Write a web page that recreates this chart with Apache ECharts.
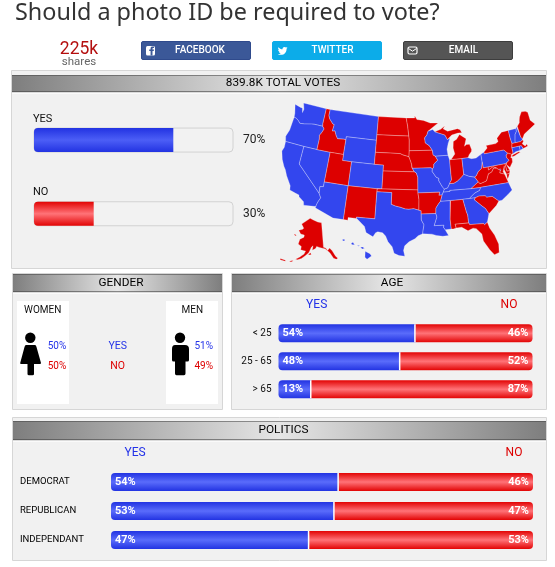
<!DOCTYPE html>
<html>
<head>
<meta charset="utf-8">
<title>Should a photo ID be required to vote?</title>
<script src="https://cdn.jsdelivr.net/npm/echarts@6/dist/echarts.min.js"></script>
<style>
html,body{margin:0;padding:0;background:#fff}
#main{width:555px;height:567px}
</style>
</head>
<body>
<div id="main"></div>
<script>
// Poll results
const questionTitle = 'Should a photo ID be required to vote?';
const shareCount = '225k';
const totalVotes = '839.8K TOTAL VOTES';
const overallChoices = ['YES', 'NO'];
const overallValues = [70, 30];
const genderGroups = ['WOMEN', 'MEN'];
const genderYes = [50, 51];
const genderNo = [50, 49];
const ageGroups = ['< 25', '25 - 65', '> 65'];
const ageYes = [54, 48, 13];
const ageNo = [46, 52, 87];
const politicsGroups = ['DEMOCRAT', 'REPUBLICAN', 'INDEPENDANT'];
const politicsYes = [54, 53, 47];
const politicsNo = [46, 47, 53];

// Which way each state leans
const yesStates = ['WA','OR','CA','NV','AZ','MT','WY','CO','TX','LA','MS','MO','IL','WI','KY','TN','OH','PA','GA','NC','VT','NH','CT','RI','HI','DC'];
const noStates = ['ID','UT','NM','ND','SD','NE','KS','OK','AR','MN','IA','IN','MI','WV','VA','MD','DE','SC','AL','FL','NY','NJ','MA','ME','AK'];

// Simplified state outlines, "lon,lat" vertices per ring
const stateOutlines = {
  WA:['-124.7,48.4 -123.2,48.15 -122.75,48.15 -122.4,47.4 -122.3,48.0 -122.8,49 -117.03,49 -117.04,46.42 -116.92,45.99 -118.98,46 -119.6,45.92 -121.2,45.65 -122.3,45.55 -122.8,45.9 -123.4,46.2 -124,46.27 -124.1,46.9'],
  OR:['-124,46.27 -123.4,46.2 -122.8,45.9 -122.3,45.55 -121.2,45.65 -119.6,45.92 -118.98,46 -116.92,45.99 -116.47,45.6 -116.85,44.9 -117.2,44.4 -117.03,43.8 -117.03,42 -120,42 -124.21,42 -124.55,42.84 -124.1,44'],
  CA:['-124.21,42 -120,42 -120,39 -114.63,35 -114.14,34.3 -114.5,33.6 -114.72,33 -114.72,32.72 -117.12,32.53 -117.3,33.1 -118.4,33.75 -118.5,34.03 -119.2,34.15 -120.5,34.45 -120.65,35.15 -121.9,36.6 -122.5,37.5 -123,38 -123.75,39 -124.35,40.3 -124.1,41'],
  NV:['-120,42 -117.03,42 -114.04,42 -114.04,37 -114.04,36.2 -114.74,36.1 -114.63,35 -120,39'],
  ID:['-117.03,49 -116.05,49 -116.05,48 -115.7,47.45 -114.7,46.7 -114.35,46.65 -114.5,45.55 -113.9,45.65 -113.45,44.95 -113,44.45 -111.5,44.55 -111.05,44.48 -111.05,42 -114.04,42 -117.03,42 -117.03,43.8 -117.2,44.4 -116.85,44.9 -116.47,45.6 -116.92,45.99 -117.04,46.42'],
  MT:['-116.05,49 -104.05,49 -104.05,45.94 -104.05,45 -111.05,45 -111.05,44.48 -111.5,44.55 -113,44.45 -113.45,44.95 -113.9,45.65 -114.5,45.55 -114.35,46.65 -114.7,46.7 -115.7,47.45 -116.05,48'],
  WY:['-111.05,45 -104.05,45 -104.05,43 -104.05,41 -109.05,41 -111.05,41 -111.05,42 -111.05,44.48'],
  UT:['-114.04,42 -111.05,42 -111.05,41 -109.05,41 -109.05,37 -114.04,37'],
  CO:['-109.05,41 -104.05,41 -102.05,41 -102.05,40 -102.05,37 -103,37 -109.05,37'],
  AZ:['-114.04,37 -109.05,37 -109.05,31.33 -111.07,31.33 -114.81,32.5 -114.72,32.72 -114.72,33 -114.5,33.6 -114.14,34.3 -114.63,35 -114.74,36.1 -114.04,36.2'],
  NM:['-109.05,37 -103,37 -103.04,36.5 -103.04,32 -106.62,32 -106.53,31.78 -108.2,31.78 -108.2,31.33 -109.05,31.33'],
  ND:['-104.05,49 -97.23,49 -96.85,47.6 -96.56,45.94 -104.05,45.94'],
  SD:['-104.05,45.94 -96.56,45.94 -96.45,45.3 -96.45,43.5 -96.5,42.5 -97.9,42.8 -98.5,43 -104.05,43'],
  NE:['-104.05,43 -98.5,43 -97.9,42.8 -96.5,42.5 -96.1,41.7 -95.9,41.2 -95.85,40.7 -95.31,40 -102.05,40 -102.05,41 -104.05,41'],
  KS:['-102.05,40 -95.31,40 -94.9,39.8 -94.6,39.1 -94.62,37 -103,37 -102.05,37'],
  OK:['-103,37 -94.62,37 -94.62,36.5 -94.43,35.4 -94.48,33.64 -95.5,33.9 -96.5,33.8 -97.2,33.85 -98.1,34.1 -99.2,34.3 -100,34.56 -100,36.5 -103.04,36.5'],
  TX:['-103.04,36.5 -100,36.5 -100,34.56 -99.2,34.3 -98.1,34.1 -97.2,33.85 -96.5,33.8 -95.5,33.9 -94.48,33.64 -94.04,33.55 -94.04,33 -94.04,32 -93.55,31.2 -93.75,30.3 -93.84,29.7 -94.7,29.4 -95.3,28.9 -96.4,28.4 -97.2,27.7 -97.4,26.9 -97.15,25.96 -98.2,26.05 -99.1,26.4 -99.5,27.5 -100.3,28.3 -100.8,29.25 -101.4,29.77 -102.3,29.88 -102.7,29.7 -103.15,28.98 -104.5,29.6 -104.9,30.6 -106.53,31.78 -106.62,32 -103.04,32'],
  MN:['-97.23,49 -95.15,49 -95.15,49.38 -94.6,48.72 -93,48.55 -91.4,48.07 -89.5,48 -92.02,46.7 -92.3,46.1 -92.88,45.6 -92.75,44.75 -91.9,44.3 -91.22,43.5 -96.45,43.5 -96.45,45.3 -96.56,45.94 -96.85,47.6'],
  IA:['-96.45,43.5 -91.22,43.5 -91.1,42.7 -90.64,42.5 -90.15,41.8 -91.05,41.2 -91.1,40.7 -91.42,40.38 -91.7,40.6 -95.77,40.58 -95.85,40.7 -95.9,41.2 -96.1,41.7 -96.5,42.5'],
  MO:['-95.77,40.58 -91.7,40.6 -91.42,40.38 -91.5,40 -90.7,39 -90.15,38.8 -90.2,38.4 -89.5,37.3 -89.13,36.98 -89.4,36.5 -89.7,36 -90.37,36 -90.15,36.5 -94.62,36.5 -94.62,37 -94.6,39.1 -94.9,39.8 -95.31,40'],
  AR:['-94.62,36.5 -90.15,36.5 -90.37,36 -89.7,36 -90.1,35 -90.6,34.5 -91.1,33.9 -91.17,33 -94.04,33 -94.04,33.55 -94.48,33.64 -94.43,35.4'],
  LA:['-94.04,33 -91.17,33 -91,32.4 -91.6,31 -89.73,31 -89.85,30.65 -89.55,30.2 -89.4,29.9 -89,29.2 -90.1,29.15 -91.3,29.35 -92.1,29.6 -93.84,29.7 -93.75,30.3 -93.55,31.2 -94.04,32'],
  MS:['-91.17,33 -91.1,33.9 -90.6,34.5 -90.1,35 -88.2,35 -88.1,34.9 -88.47,31.9 -88.4,30.25 -89.55,30.2 -89.85,30.65 -89.73,31 -91.6,31 -91,32.4'],
  AL:['-88.2,35 -85.6,35 -85.18,32.87 -85,32.3 -85,31 -87.6,31 -87.45,30.35 -88,30.25 -88.4,30.25 -88.47,31.9 -88.1,34.9'],
  TN:['-90.1,35 -89.7,36 -89.4,36.5 -88.07,36.5 -88.07,36.68 -83.68,36.6 -81.68,36.59 -82,36.12 -83.1,35.77 -84.3,35 -85.6,35 -88.2,35'],
  KY:['-89.4,36.5 -89.13,36.98 -88.5,37.1 -88,37.8 -87.1,37.8 -86.3,38.1 -85.5,38.6 -84.82,39.1 -84.3,38.9 -83.7,38.65 -82.6,38.42 -82,37.55 -83.68,36.6 -88.07,36.68 -88.07,36.5'],
  IL:['-91.42,40.38 -91.1,40.7 -91.05,41.2 -90.15,41.8 -90.64,42.5 -87.8,42.5 -87.53,41.7 -87.53,39.35 -87.5,38.4 -88,37.8 -88.5,37.1 -89.13,36.98 -89.5,37.3 -90.2,38.4 -90.15,38.8 -90.7,39 -91.5,40'],
  WI:['-92.02,46.7 -90.9,46.95 -90.4,46.55 -88.1,45.9 -87.6,45.1 -87,45.3 -87.5,44.5 -87.9,43.5 -87.8,42.5 -90.64,42.5 -91.1,42.7 -91.22,43.5 -91.9,44.3 -92.75,44.75 -92.88,45.6 -92.3,46.1'],
  IN:['-87.53,41.7 -87.2,41.75 -84.8,41.72 -84.82,39.1 -85.5,38.6 -86.3,38.1 -87.1,37.8 -88,37.8 -87.5,38.4 -87.53,39.35'],
  MI:['-87.2,41.75 -84.8,41.72 -83.45,41.73 -83.1,42.2 -82.5,42.7 -82.4,43 -82.7,43.9 -83.4,43.95 -83.9,43.7 -83.3,44.9 -84.7,45.75 -85.5,45 -86.3,44.7 -86.5,43.6 -86.25,42.6',
      '-90.4,46.55 -89,46.9 -87.9,47.45 -88.4,46.95 -87.4,46.5 -85,46.75 -84.4,46.5 -84.1,46 -85,46 -86.5,45.8 -87.6,45.1 -88.1,45.9'],
  OH:['-84.8,41.72 -83.45,41.73 -82.7,41.5 -81.7,41.5 -80.52,41.98 -80.52,40.64 -80.85,39.7 -81.7,39.2 -82.2,38.6 -82.6,38.42 -83.7,38.65 -84.3,38.9 -84.82,39.1'],
  PA:['-80.52,41.98 -79.76,42.27 -79.76,42 -75.35,42 -74.7,41.36 -75.13,40.97 -75.1,40.6 -74.72,40.15 -75.4,39.8 -75.79,39.72 -79.48,39.72 -80.52,39.72 -80.52,40.64'],
  NY:['-79.76,42.27 -78.9,42.85 -79.05,43.27 -76.8,43.3 -76.2,43.55 -76.3,44.15 -75,44.97 -73.35,45 -73.35,43.7 -73.25,42.75 -73.5,42.05 -73.5,41.3 -73.65,41 -73.9,41 -74.7,41.36 -75.35,42 -79.76,42',
      '-74.05,40.6 -73.75,40.85 -72.3,41.15 -71.9,41.05 -73.5,40.6'],
  NJ:['-74.7,41.36 -73.9,41 -74.25,40.5 -74,40.4 -74.1,39.75 -74.9,38.95 -75.5,39.5 -75.4,39.8 -74.72,40.15 -75.1,40.6 -75.13,40.97'],
  DE:['-75.79,39.72 -75.4,39.8 -75.5,39.5 -75.05,38.45 -75.7,38.45'],
  MD:['-79.48,39.72 -75.79,39.72 -75.7,38.45 -75.05,38.45 -75.25,38.03 -75.9,37.95 -76.2,38.8 -76,39.4 -76.5,38.5 -76.3,38.05 -77,38.3 -77.25,38.4 -77.05,38.85 -77.5,39.1 -77.75,39.3 -78.4,39.6 -79.48,39.2'],
  DC:['-77.2,38.95 -77.04,39.1 -76.85,38.92 -77.04,38.72'],
  VA:['-83.68,36.6 -81.68,36.59 -75.9,36.55 -76,37 -76.3,38.05 -77,38.3 -77.25,38.4 -77.05,38.85 -77.5,39.1 -77.75,39.3 -78.35,39.4 -78.9,38.8 -79.65,38.6 -80.3,37.5 -81.7,37.2 -82,37.55',
      '-75.25,38.03 -75.9,37.95 -75.95,37.15 -75.6,37.5'],
  WV:['-80.52,40.64 -80.52,39.72 -79.48,39.72 -79.48,39.2 -78.4,39.6 -77.75,39.3 -78.35,39.4 -78.9,38.8 -79.65,38.6 -80.3,37.5 -81.7,37.2 -82,37.55 -82.6,38.42 -82.2,38.6 -81.7,39.2 -80.85,39.7'],
  NC:['-84.3,35 -83.1,35.77 -82,36.12 -81.68,36.59 -75.9,36.55 -75.5,35.25 -76.5,34.65 -77.9,33.9 -78.55,33.86 -79.67,34.8 -80.8,34.82 -81.05,35.1 -82.3,35.2 -83.1,35'],
  SC:['-83.1,35 -82.3,35.2 -81.05,35.1 -80.8,34.82 -79.67,34.8 -78.55,33.86 -79.2,33.2 -80.9,32.05 -81.4,33 -82,33.5 -83.35,34.7'],
  GA:['-85.6,35 -84.3,35 -83.1,35 -83.35,34.7 -82,33.5 -81.4,33 -80.9,32.05 -81.45,30.72 -82.05,30.36 -82.2,30.57 -84.86,30.7 -85,31 -85,32.3 -85.18,32.87'],
  FL:['-87.6,31 -85,31 -84.86,30.7 -82.2,30.57 -82.05,30.36 -81.45,30.72 -81.2,29.7 -80.5,28.4 -80.03,26.8 -80.2,25.4 -81.1,25.15 -81.8,26.1 -82.7,27.7 -82.8,28.9 -83.7,29.9 -84.3,30.05 -85.3,29.7 -86.4,30.4 -87.45,30.35'],
  VT:['-73.35,45 -71.5,45 -71.6,44.5 -72.05,44.1 -72.45,43 -72.46,42.73 -73.25,42.75 -73.35,43.7'],
  NH:['-71.5,45 -71.3,45.3 -71.08,45.3 -70.98,43.4 -70.7,43.07 -70.82,42.87 -71.3,42.7 -72.46,42.73 -72.45,43 -72.05,44.1 -71.6,44.5'],
  ME:['-71.08,45.3 -70.4,45.8 -70.25,46.2 -69.99,46.7 -69.23,47.46 -68.3,47.35 -67.8,47.07 -67.8,45.7 -67,44.85 -68.5,44.3 -70,43.75 -70.7,43.07 -70.98,43.4'],
  MA:['-73.5,42.05 -73.25,42.75 -72.46,42.73 -71.3,42.7 -70.82,42.87 -70.6,42.65 -71.05,42.3 -70.55,41.8 -70.1,42.05 -70,41.7 -70.65,41.55 -71.15,41.5 -71.38,42.02 -71.8,42.02'],
  CT:['-73.5,42.05 -71.8,42.02 -71.85,41.32 -72.9,41.25 -73.65,41 -73.5,41.3'],
  RI:['-71.8,42.02 -71.38,42.02 -71.15,41.5 -71.85,41.32'],
  AK:['-141,69.65 -141,60.3 -139,59.9 -137.5,58.9 -135.5,59.7 -133.5,58.4 -131.5,56 -130,55 -131.5,54.8 -133.5,55.5 -135.5,57.5 -136.5,58.2 -139.5,59.6 -142,60 -145,60.4 -147.5,60.8 -148.5,60 -151.5,59.3 -151,61 -152.5,60.4 -153.5,59.3 -154.5,58.2 -157,57 -160,55.6 -163,54.7 -164.8,54.6 -162,55.8 -158.5,57.4 -157.5,58.7 -159,58.6 -162,58.7 -162,60 -165.3,60.6 -164.7,62.5 -161,63.7 -161,64.5 -165,64.5 -168,65.6 -164,66.5 -163,67 -166.5,68.3 -163,69.5 -156.7,71.3 -152,70.8 -146,70.1',
      '-154.8,57.3 -152.2,57.6 -152.8,58.3 -154.2,57.8','-169,52.8 -167,53.3 -166.2,53.9 -168,53.5','-176,52 -172,52.4 -172,52.9 -176,52.5','-171.8,63.4 -170.5,63.7 -168.8,63.3 -170,63.1'],
  HI:['-155.9,20.25 -155.1,19.85 -154.85,19.5 -155.6,18.95 -155.95,19.3','-156.7,20.9 -156.3,20.95 -156,20.75 -156.4,20.6','-157.3,21.2 -156.75,21.18 -157,21.05','-158.25,21.55 -157.95,21.7 -157.65,21.3 -158.1,21.3','-159.75,22.1 -159.4,22.23 -159.3,21.95 -159.6,21.9']
};

// Build GeoJSON from the outlines
const usaGeo = {
  type: 'FeatureCollection',
  features: Object.keys(stateOutlines).map(function (code) {
    return {
      type: 'Feature',
      properties: { name: code },
      geometry: {
        type: 'MultiPolygon',
        coordinates: stateOutlines[code].map(function (ring) {
          return [ring.split(' ').map(function (p) { return p.split(',').map(Number); })];
        })
      }
    };
  })
};
echarts.registerMap('USA', usaGeo);

// Albers composite: conic equal-area for the lower 48 with Alaska and Hawaii insets
function conic(lat1, lat2, lon0, lat0, sx, sy, dx, dy) {
  const rad = Math.PI / 180;
  const s1 = Math.sin(lat1 * rad), c1 = Math.cos(lat1 * rad);
  const n = (s1 + Math.sin(lat2 * rad)) / 2;
  const C = c1 * c1 + 2 * n * s1;
  const rho = function (lat) { return Math.sqrt(C - 2 * n * Math.sin(lat * rad)) / n; };
  const rho0 = rho(lat0);
  return function (pt) {
    const r = rho(pt[1]);
    const th = n * (pt[0] - lon0) * rad;
    return [dx + sx * r * Math.sin(th), dy - sy * (rho0 - r * Math.cos(th))];
  };
}
const mainland = conic(29.5, 45.5, -96, 38.7, 1, 1, 0, 0);
const alaskaInset = conic(55, 65, -147.5, 58.5, 0.35, 0.44, -0.2695, 0.2122);
const hawaiiInset = conic(8, 18, -157, 19.9, 1.04, 1.04, -0.15, 0.215);
const usaProjection = {
  project: function (pt) {
    if (pt[1] > 50) return alaskaInset(pt);
    if (pt[1] < 23 && pt[0] < -150) return hawaiiInset(pt);
    return mainland(pt);
  },
  unproject: function (pt) { return pt; }
};

const BLUE = '#3346ee', RED = '#dd0000', TEXT_BLUE = '#2433e8';
const FONT = 'Roboto, sans-serif';

// Icon shapes for the share buttons and the gender panel
const iconPaths = {
  fbGlyph: 'M6 16V9H4V6.5h2V5c0-2 1-3 3-3h2v2.4H9.8C9 4.4 8.8 4.8 8.8 5.4v1.1H11L10.6 9H8.8v7z',
  bird: 'M22.46,6C21.69,6.35 20.86,6.58 20,6.69C20.88,6.16 21.56,5.32 21.88,4.31C21.05,4.81 20.13,5.16 19.16,5.36C18.37,4.5 17.26,4 16,4C13.65,4 11.73,5.92 11.73,8.29C11.73,8.63 11.77,8.96 11.84,9.27C8.28,9.09 5.11,7.38 3,4.79C2.63,5.42 2.42,6.16 2.42,6.94C2.42,8.43 3.17,9.75 4.33,10.5C3.62,10.5 2.96,10.3 2.38,10C2.38,10 2.38,10 2.38,10.03C2.38,12.11 3.86,13.85 5.82,14.24C5.46,14.34 5.08,14.39 4.69,14.39C4.42,14.39 4.15,14.36 3.89,14.31C4.43,16 6,17.26 7.89,17.29C6.43,18.45 4.58,19.13 2.56,19.13C2.22,19.13 1.88,19.11 1.54,19.07C3.44,20.29 5.7,21 8.12,21C16,21 20.33,14.46 20.33,8.79C20.33,8.6 20.33,8.42 20.32,8.23C21.16,7.63 21.88,6.87 22.46,6Z',
  womanBody: 'M26 345H35Q36 345 36.5 347L41 363Q41 364 40 364H34V374Q34 375.2 32.5 375.2H29Q27.5 375.2 27.5 374V364H21Q20 364 20.2 363L24.5 347Q25 345 26 345Z',
  manBody: 'M175 345H185Q189 345 189 349V360Q189 361.5 187.5 361.5H185.5V373.5Q185.5 375.2 184 375.2H176.5Q175 375.2 175 373.5V361.5H173.5Q172 361.5 172 360V349Q172 345 175 345Z'
};
Object.keys(iconPaths).forEach(function (name) {
  echarts.graphic.registerShape(name, echarts.graphic.extendPath(iconPaths[name], {}));
});

function barGradient(edge, mid) {
  return { type: 'linear', x: 0, y: 0, x2: 0, y2: 1, colorStops: [
    { offset: 0, color: edge }, { offset: 0.5, color: mid }, { offset: 1, color: edge } ] };
}
const blueFill = barGradient('#2233e2', '#5a6cfb');
const redFill = barGradient('#e20404', '#ff7378');

// Panel frame with a shaded title strip
function panel(x, y, w, h, title, titleX, headerTop, headerBottom) {
  return [
    { type: 'rect', shape: { x: x + 0.5, y: y + 0.5, width: w, height: h }, style: { fill: '#f1f1f1', stroke: '#d6d6d6', lineWidth: 1 } },
    { type: 'rect', shape: { x: x + 1, y: headerTop, width: w - 1, height: headerBottom - headerTop }, style: {
      fill: { type: 'linear', x: 0, y: 0, x2: 1, y2: 0, colorStops: [
        { offset: 0, color: '#7e7e7e' }, { offset: 0.5, color: '#e6e6e6' }, { offset: 1, color: '#7e7e7e' } ] } } },
    { type: 'rect', shape: { x: x + 1, y: headerTop, width: w - 1, height: 1 }, style: { fill: 'rgba(70,70,70,0.55)' } },
    { type: 'rect', shape: { x: x + 1, y: headerBottom - 1, width: w - 1, height: 1.5 }, style: { fill: 'rgba(70,70,70,0.6)' } },
    { type: 'rect', shape: { x: x + 1, y: headerBottom + 0.5, width: w - 1, height: 1.5 }, style: { fill: '#fafafa' } },
    txt(titleX, (headerTop + headerBottom) / 2, title, 11.8, '#000', 'center', 400)
  ];
}
function txt(x, y, text, size, color, align, weight, family) {
  return { type: 'text', x: x, y: y, z: 5, style: {
    text: text, fill: color, font: (weight || 400) + ' ' + size + 'px ' + (family || FONT),
    textAlign: align || 'center', textVerticalAlign: 'middle' } };
}
function button(x, color, edge, label, labelX) {
  return [
    { type: 'rect', shape: { x: x + 0.5, y: 41.5, width: 109, height: 18, r: 1.5 }, style: { fill: color, stroke: edge, lineWidth: 1 } },
    txt(labelX, 50.5, label, 10, '#fff', 'center', 500)
  ];
}

const graphics = [].concat(
  txt(15, 13.5, questionTitle, 23.4, '#333', 'left', 400, '"Noto Sans", sans-serif'),
  txt(79, 49.5, shareCount, 17.5, '#b40f0f', 'center', 400),
  txt(79, 62, 'shares', 11.5, '#666', 'center', 400),
  button(141, '#3b5898', '#2f4a8c', 'FACEBOOK', 200),
  button(272, '#0cace9', '#0cace9', 'TWITTER', 332.5),
  button(403, '#555555', '#3d3d3d', 'EMAIL', 463.5),
  // Share icons
  { type: 'rect', shape: { x: 146, y: 46, width: 9, height: 9.5, r: 1.5 }, style: { fill: '#fff' } },
  { type: 'fbGlyph', x: 146.5, y: 45.2, scaleX: 0.68, scaleY: 0.65, style: { fill: '#3b5898' } },
  { type: 'bird', x: 277, y: 45, scaleX: 0.47, scaleY: 0.47, style: { fill: '#fff' } },
  { type: 'rect', shape: { x: 408, y: 47, width: 9, height: 7, r: 1.5 }, style: { fill: 'none', stroke: '#fff', lineWidth: 1.2 } },
  { type: 'polyline', shape: { points: [[408.5, 48.5], [412.5, 51.2], [416.5, 48.5]] }, style: { fill: 'none', stroke: '#fff', lineWidth: 1 } },

  panel(11, 70, 535, 198, totalVotes, 283, 75, 92),
  txt(33, 119, overallChoices[0], 11, '#111', 'left'),
  txt(33, 192.5, overallChoices[1], 11, '#111', 'left'),

  panel(12, 273, 210, 136, 'GENDER', 121, 274, 292),
  { type: 'rect', shape: { x: 17, y: 301, width: 52, height: 103 }, style: { fill: '#fff' } },
  { type: 'rect', shape: { x: 166, y: 301, width: 52, height: 103 }, style: { fill: '#fff' } },
  txt(42.7, 310, genderGroups[0], 10, '#111'),
  txt(192.3, 310, genderGroups[1], 10, '#111'),
  // Woman pictogram
  { type: 'circle', shape: { cx: 30.3, cy: 337.7, r: 5.2 }, style: { fill: '#000' } },
  { type: 'womanBody', style: { fill: '#000' } },
  // Man pictogram
  { type: 'circle', shape: { cx: 180, cy: 337.7, r: 5.2 }, style: { fill: '#000' } },
  { type: 'manBody', style: { fill: '#000' } },
  txt(57, 346, genderYes[0] + '%', 10, TEXT_BLUE),
  txt(57, 366, genderNo[0] + '%', 10, RED),
  txt(203.7, 346, genderYes[1] + '%', 10, TEXT_BLUE),
  txt(203.7, 366, genderNo[1] + '%', 10, RED),
  txt(117.7, 346, 'YES', 10.5, TEXT_BLUE),
  txt(117.7, 366, 'NO', 10.5, RED),

  panel(231, 273, 315, 136, 'AGE', 392, 274, 292),
  txt(316.7, 305, 'YES', 12, TEXT_BLUE),
  txt(509, 305, 'NO', 12, RED),

  panel(12, 417, 534, 143, 'POLITICS', 283.5, 421, 440),
  txt(135, 453, 'YES', 12, TEXT_BLUE),
  txt(514, 453, 'NO', 12, RED)
);

// One stacked yes/no bar chart per grid index
function stackPair(index, yes, no) {
  const label = { show: true, formatter: '{c}%', color: '#fff', fontFamily: FONT, fontWeight: 700, fontSize: 11 };
  return [
    { type: 'bar', xAxisIndex: index, yAxisIndex: index, stack: 's' + index, barWidth: 18, data: yes, silent: true,
      itemStyle: { color: blueFill, borderRadius: [4, 0, 0, 4] },
      label: Object.assign({ position: 'insideLeft', distance: 4 }, label) },
    { type: 'bar', xAxisIndex: index, yAxisIndex: index, stack: 's' + index, barWidth: 18, data: no, silent: true,
      itemStyle: { color: redFill, borderRadius: [0, 4, 4, 0], shadowColor: '#ffffff', shadowOffsetX: -1.5, shadowBlur: 0 },
      label: Object.assign({ position: 'insideRight', distance: 4 }, label) }
  ];
}
function pctAxis(index) {
  return { type: 'value', gridIndex: index, min: 0, max: 100, show: false };
}
function rowAxis(index, rows, extra) {
  return { type: 'category', gridIndex: index, inverse: true, data: rows,
    axisLine: { show: false }, axisTick: { show: false }, splitLine: { show: false },
    axisLabel: Object.assign({ color: '#111', fontFamily: FONT, fontSize: 11 }, extra) };
}

const chart = echarts.init(document.getElementById('main'), null, { renderer: 'canvas' });
chart.setOption({
  animation: false,
  backgroundColor: '#ffffff',
  graphic: { elements: graphics },
  grid: [
    { left: 34, width: 199, top: 103.2, height: 147.4 },
    { left: 278.5, width: 254, top: 319.3, height: 84 },
    { left: 111, width: 422, top: 467.5, height: 87 }
  ],
  xAxis: [pctAxis(0), pctAxis(1), pctAxis(2)],
  yAxis: [
    rowAxis(0, overallChoices, { show: false }),
    rowAxis(1, ageGroups, { margin: 7, fontSize: 10 }),
    rowAxis(2, politicsGroups, { align: 'left', margin: 91, fontSize: 9.5, fontWeight: 400, color: '#000' }),
    { type: 'category', gridIndex: 0, inverse: true, position: 'right',
      data: overallValues.map(function (v) { return v + '%'; }),
      axisLine: { show: false }, axisTick: { show: false }, splitLine: { show: false },
      axisLabel: { color: '#222', fontFamily: FONT, fontSize: 12, margin: 10 } }
  ],
  series: [
    { type: 'bar', xAxisIndex: 0, yAxisIndex: 0, barWidth: 24, silent: true,
      showBackground: true,
      backgroundStyle: { color: '#f2f2f2', borderColor: '#d2d2d2', borderWidth: 1, borderRadius: 4 },
      data: [
        { value: overallValues[0], itemStyle: { color: barGradient('#2233e2', '#4c5ef6'), borderRadius: [4, 0, 0, 4] } },
        { value: overallValues[1], itemStyle: { color: redFill, borderRadius: [4, 0, 0, 4] } }
      ] }
  ].concat(stackPair(1, ageYes, ageNo), stackPair(2, politicsYes, politicsNo), [
    { type: 'map', map: 'USA', silent: true, projection: usaProjection,
      left: 280, top: 103, width: 255, height: 159,
      label: { show: false }, emphasis: { disabled: true }, select: { disabled: true },
      itemStyle: { areaColor: BLUE, borderColor: 'rgba(255,255,255,0.4)', borderWidth: 0.7 },
      data: yesStates.map(function (s) { return { name: s, value: 1, itemStyle: { areaColor: BLUE } }; })
        .concat(noStates.map(function (s) { return { name: s, value: 0, itemStyle: { areaColor: RED } }; })) }
  ])
});
</script>
</body>
</html>
